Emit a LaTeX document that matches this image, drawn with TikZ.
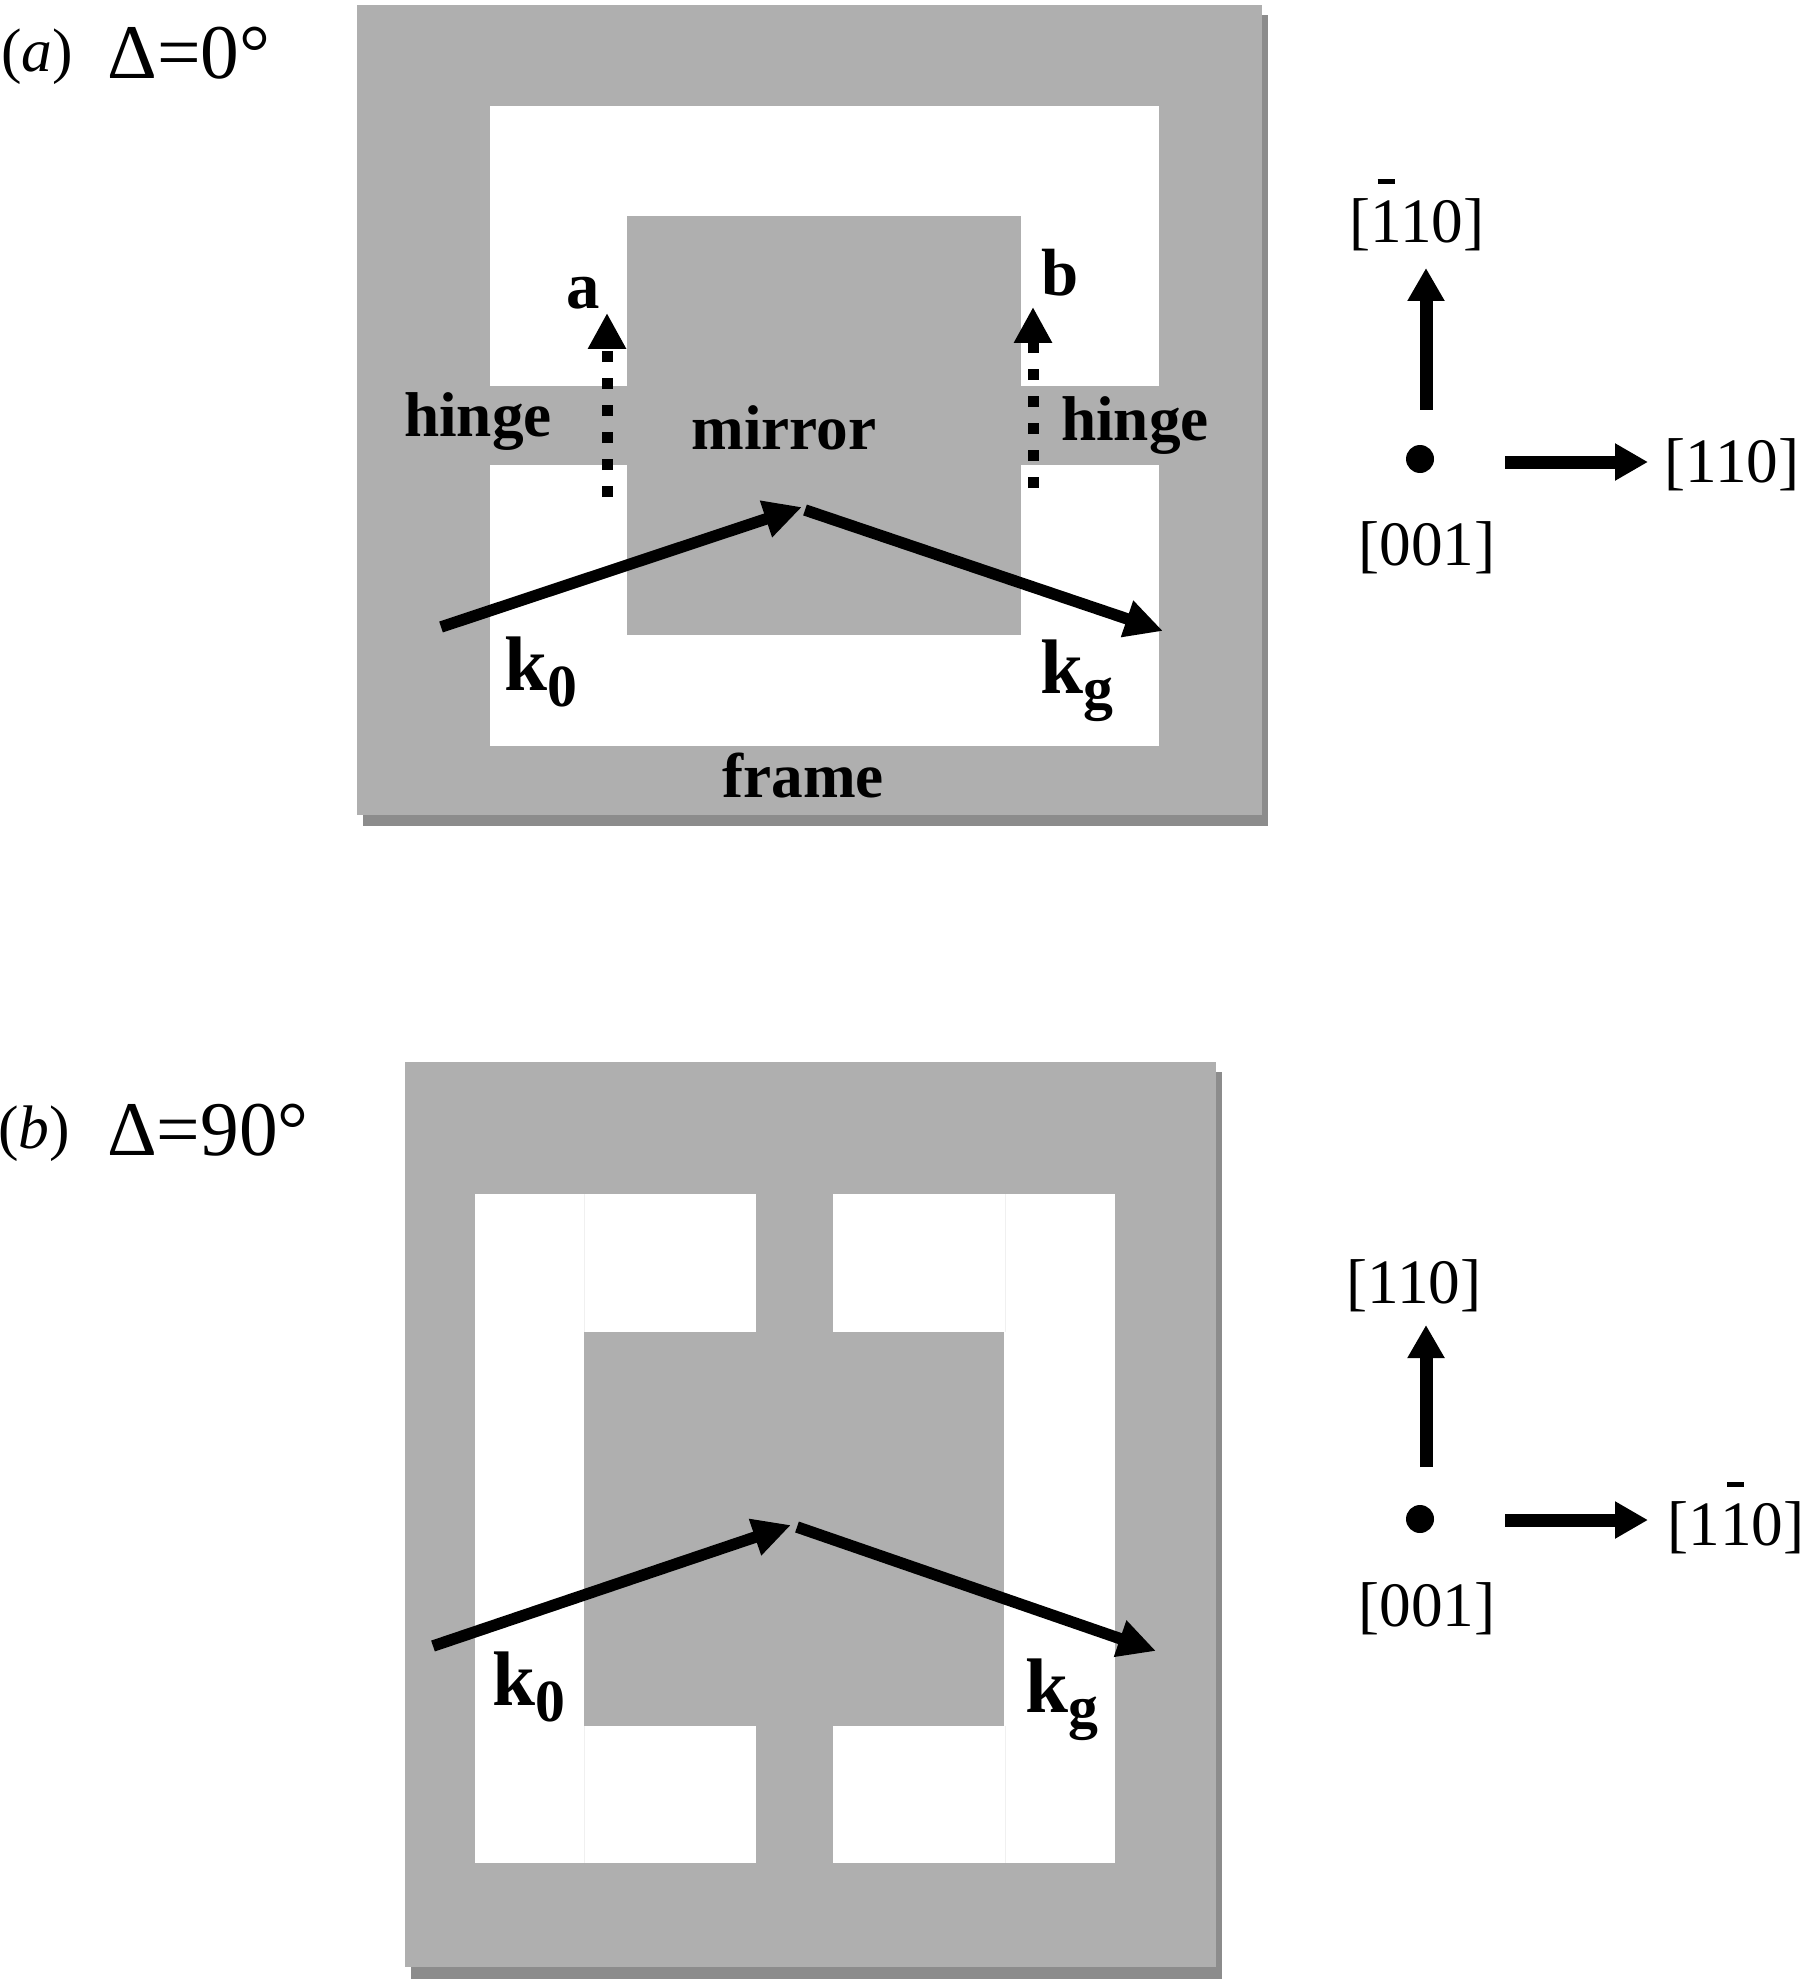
\documentclass[tikz,border=0pt]{standalone}
\usepackage{fontspec}
\setmainfont{Liberation Serif}
\usetikzlibrary{arrows.meta}
\definecolor{plate}{gray}{0.685}
\definecolor{plateshadow}{gray}{0.55}
\newcommand{\barone}{\rlap{\hspace{.11em}\rule[.92em]{.27em}{.07em}}1}
\newcommand{\kvec}[1]{\fontsize{22}{24}\selectfont k\raisebox{-.2em}{\fontsize{17}{20}\selectfont #1}}
\tikzset{
    panel/.style={inner sep=0pt, font=\fontsize{22}{24}\selectfont},
    letter/.style={inner sep=0pt, font=\fontsize{17.5}{20}\selectfont},
    miller/.style={inner sep=0pt, font=\fontsize{18}{20}\selectfont},
    tag/.style={inner sep=0pt, font=\fontsize{18}{20}\selectfont\bfseries},
    ray/.style={-{Triangle[length=3.8mm,width=3.6mm]}, line width=1.15mm},
    axis/.style={-{Triangle[length=3.3mm,width=3.5mm]}, line width=1.3mm},
    tilt/.style={-{Triangle[length=3.6mm,width=3.6mm]}, line width=1.1mm, dash pattern=on 1.1mm off 1.6mm}
}

\begin{document}
\begin{tikzpicture}[x=0.1mm, y=-0.1mm]
    \useasboundingbox (0,0) rectangle (1800,1979);

    % panel a
    \fill[plateshadow] (363,15) rectangle (1268,826);
    \fill[plate] (357,5) rectangle (1262,815);
    \fill[white] (490,106) rectangle (1159,746);
    \fill[plate] (627,216) rectangle (1021,635);
    \fill[plate] (490,386) rectangle (1159,465);

    \node[tag] (hingeal) at (478,422) {hinge};
    \node[tag] (hingear) at (1135,426) {hinge};
    \node[tag] (mirrora) at (784,428) {mirror};
    \node[tag] (framea)  at (803,776) {frame};
    \node[tag, font=\fontsize{19}{20}\selectfont\bfseries] (rota) at (583,293) {a};
    \node[tag, font=\fontsize{19}{20}\selectfont\bfseries] (rotb) at (1060,273) {b};
    \node[tag] (k0a) at (541,672) {\kvec{0}};
    \node[tag] (kga) at (1077,681) {\kvec{g}};

    \coordinate (ina)   at (441,627);
    \coordinate (hita)  at (802,507);
    \coordinate (offa)  at (805,510);
    \coordinate (outa)  at (1163,631);
    \coordinate (rotas) at (607,497);
    \coordinate (rotae) at (607,313);
    \coordinate (rotbs) at (1033,488);
    \coordinate (rotbe) at (1033,307);
    \path
        (ina) edge [ray] (hita)
        (offa) edge [ray] (outa)
        (rotas) edge [tilt] (rotae)
        (rotbs) edge [tilt] (rotbe)
        ;

    \node[letter] (laba) at (37,57) {(\textit{a})};
    \node[panel] (dela) at (189,53) {Δ=0°};

    % axes a
    \node[circle, fill=black, inner sep=0pt, minimum size=2.8mm] (dota) at (1420,459) {};
    \coordinate (upas) at (1426,410);
    \coordinate (upae) at (1426,268);
    \coordinate (rias) at (1505,462);
    \coordinate (riae) at (1648,462);
    \path
        (upas) edge [axis] (upae)
        (rias) edge [axis] (riae)
        ;
    \node[miller] (upal) at (1417,215) {[\barone 10]};
    \node[miller] (rial) at (1732,465) {[110]};
    \node[miller] (zeal) at (1427,548) {[001]};

    % panel b
    \fill[plateshadow] (411,1072) rectangle (1222,1979);
    \fill[plate] (405,1062) rectangle (1216,1967);
    \fill[white] (475,1194) rectangle (1115,1863);
    \fill[plate] (584,1332) rectangle (1004,1726);
    \fill[plate] (756,1194) rectangle (833,1863);
    \draw[black!6, line width=0.1mm] (584,1194) -- (584,1332) (584,1726) -- (584,1863);
    \draw[black!6, line width=0.1mm] (1005,1194) -- (1005,1332) (1005,1726) -- (1005,1863);

    \node[tag] (k0b) at (529,1687) {\kvec{0}};
    \node[tag] (kgb) at (1062,1700) {\kvec{g}};

    \coordinate (inb)  at (433,1646);
    \coordinate (hitb) at (791,1525);
    \coordinate (offb) at (797,1527);
    \coordinate (outb) at (1156,1651);
    \path
        (inb) edge [ray] (hitb)
        (offb) edge [ray] (outb)
        ;

    \node[letter] (labb) at (34,1134) {(\textit{b})};
    \node[panel] (delb) at (208,1130) {Δ=90°};

    % axes b
    \node[circle, fill=black, inner sep=0pt, minimum size=2.8mm] (dotb) at (1420,1519) {};
    \coordinate (upbs) at (1426,1467);
    \coordinate (upbe) at (1426,1325);
    \coordinate (ribs) at (1505,1520);
    \coordinate (ribe) at (1648,1520);
    \path
        (upbs) edge [axis] (upbe)
        (ribs) edge [axis] (ribe)
        ;
    \node[miller] (upbl) at (1414,1286) {[110]};
    \node[miller] (ribl) at (1736,1518) {[1\barone 0]};
    \node[miller] (zebl) at (1427,1609) {[001]};
\end{tikzpicture}
\end{document}
